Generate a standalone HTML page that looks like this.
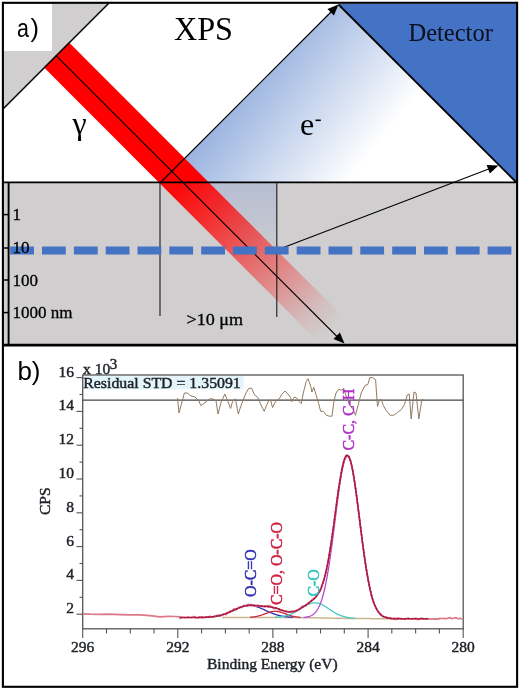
<!DOCTYPE html>
<html><head><meta charset="utf-8"><style>html,body{margin:0;padding:0;background:#fff;}svg{display:block;}</style></head>
<body><svg width="520" height="690" viewBox="0 0 520 690">
<defs>
 <linearGradient id="cone" gradientUnits="userSpaceOnUse" x1="160" y1="183" x2="273.9" y2="274.1">
  <stop offset="0" stop-color="#96b0de"/>
  <stop offset="1" stop-color="#ffffff"/>
 </linearGradient>
 <linearGradient id="beamfade" gradientUnits="userSpaceOnUse" x1="183" y1="183" x2="330" y2="330">
  <stop offset="0" stop-color="#ff0000" stop-opacity="0.95"/>
  <stop offset="0.18" stop-color="#ff0000" stop-opacity="0.8"/>
  <stop offset="0.5" stop-color="#ff0000" stop-opacity="0.48"/>
  <stop offset="0.72" stop-color="#ff0000" stop-opacity="0.25"/>
  <stop offset="0.88" stop-color="#ff0000" stop-opacity="0.08"/>
  <stop offset="1" stop-color="#ff0000" stop-opacity="0"/>
 </linearGradient>
 <linearGradient id="tint" gradientUnits="userSpaceOnUse" x1="0" y1="183" x2="0" y2="262">
  <stop offset="0" stop-color="#7896dc" stop-opacity="0.3"/>
  <stop offset="1" stop-color="#7896dc" stop-opacity="0.02"/>
 </linearGradient>
 <clipPath id="above"><rect x="0" y="0" width="520" height="183"/></clipPath>
 <clipPath id="below"><rect x="0" y="183" width="520" height="161"/></clipPath>
</defs>
<polygon points="3,3 108,3 3,108" fill="#d0cece"/>
<rect x="4" y="4" width="48" height="47" fill="#fff"/>
<polygon points="160,183 338.5,4.5 517,183" fill="url(#cone)"/>
<polygon points="338.5,4 517,4 517,183" fill="#4472c4"/>
<rect x="3" y="183" width="514" height="161" fill="#d0cece"/>
<polygon points="183.5,183 276.5,183 276.5,276" fill="url(#tint)"/>
<polygon points="43.8,67.2 68.8,42.2 213.2,186.8 188.2,211.8" fill="#ff0000" clip-path="url(#above)"/>
<polygon points="138.2,161.8 163.2,136.8 373.2,346.8 348.2,371.8" fill="url(#beamfade)" clip-path="url(#below)"/>
<g stroke="#000" fill="none">
<line x1="3.5" y1="108.5" x2="108.5" y2="3.5" stroke-width="1.6"/>
<line x1="338.5" y1="4.5" x2="516" y2="182" stroke-width="1.8"/>
<line x1="3" y1="182.3" x2="517" y2="182.3" stroke-width="1.8"/>
<line x1="8.6" y1="182" x2="8.6" y2="345" stroke-width="1.9"/>
<line x1="3" y1="214.6" x2="9" y2="214.6" stroke-width="1.5"/>
<line x1="3" y1="248.0" x2="9" y2="248.0" stroke-width="1.5"/>
<line x1="3" y1="280.0" x2="9" y2="280.0" stroke-width="1.5"/>
<line x1="3" y1="312.6" x2="9" y2="312.6" stroke-width="1.5"/>
<line x1="160" y1="183" x2="160" y2="316" stroke="#1a1a1a" stroke-width="1.1"/>
<line x1="276.8" y1="183" x2="276.8" y2="317" stroke="#1a1a1a" stroke-width="1.1"/>
<line x1="55.8" y1="55.3" x2="337" y2="336.5" stroke-width="1.1"/>
<line x1="160" y1="183" x2="333" y2="10" stroke-width="1.2"/>
<line x1="277" y1="250" x2="490" y2="168.5" stroke-width="1.1"/>
</g>
<polygon points="344.5,343.5 333.5,338.9 339.9,332.5" fill="#000"/>
<polygon points="338.5,4.5 333.9,15.5 327.5,9.1" fill="#000"/>
<polygon points="498.5,165.4 489.8,173.5 486.6,165.1" fill="#000"/>
<g fill="#4472c4">
<rect x="10.2" y="246.5" width="23.8" height="8"/>
<rect x="42.0" y="246.5" width="23.8" height="8"/>
<rect x="73.9" y="246.5" width="23.8" height="8"/>
<rect x="105.7" y="246.5" width="23.8" height="8"/>
<rect x="137.5" y="246.5" width="23.8" height="8"/>
<rect x="169.3" y="246.5" width="23.8" height="8"/>
<rect x="201.2" y="246.5" width="23.8" height="8"/>
<rect x="233.0" y="246.5" width="23.8" height="8"/>
<rect x="264.8" y="246.5" width="23.8" height="8"/>
<rect x="296.7" y="246.5" width="23.8" height="8"/>
<rect x="328.5" y="246.5" width="23.8" height="8"/>
<rect x="360.3" y="246.5" width="23.8" height="8"/>
<rect x="392.2" y="246.5" width="23.8" height="8"/>
<rect x="424.0" y="246.5" width="23.8" height="8"/>
<rect x="455.8" y="246.5" width="23.8" height="8"/>
<rect x="487.6" y="246.5" width="23.8" height="8"/>
</g>
<line x1="2" y1="345.1" x2="518" y2="345.1" stroke="#000" stroke-width="2.7"/>
<text transform="translate(16.9,37.3) scale(0.86,1)" font-family="Liberation Sans, Arial, sans-serif" font-size="25" fill="#000">a</text>
<text x="30.6" y="37" font-family="Liberation Sans, Arial, sans-serif" font-size="25.5" fill="#000">)</text>
<text x="174" y="39.8" font-family="Liberation Serif, Times New Roman, serif" font-size="33" fill="#000" textLength="59" lengthAdjust="spacingAndGlyphs">XPS</text>
<text x="408.5" y="41" font-family="Liberation Serif, Times New Roman, serif" font-size="24.5" fill="#0a0f1e">Detector</text>
<text x="72.5" y="133.5" font-family="Liberation Serif, Times New Roman, serif" font-size="32" fill="#000">γ</text>
<text x="300" y="134.5" font-family="Liberation Serif, Times New Roman, serif" font-size="32" fill="#000">e</text>
<rect x="315.5" y="119.5" width="5.3" height="1.6" fill="#000"/>
<g font-family="Liberation Serif, Times New Roman, serif" font-size="17" fill="#000" stroke="#000" stroke-width="0.3">
<text x="12.5" y="219.8">1</text>
<text x="12.5" y="252.8">10</text>
<text x="12.5" y="285.5">100</text>
<text x="12.5" y="317.6">1000 nm</text>
<text x="186.5" y="325.2" textLength="56.5" lengthAdjust="spacingAndGlyphs">&gt;10 μm</text>
</g>
<text x="17.4" y="379.6" font-family="Liberation Sans, Arial, sans-serif" font-size="26" fill="#000">b)</text>
<rect x="83.5" y="375.8" width="160" height="13.5" fill="#e3f4fa"/>
<g stroke="#555" fill="none" stroke-width="1.3">
<rect x="82.7" y="375" width="380.5" height="253.8"/>
<line x1="82.7" y1="400.2" x2="463.2" y2="400.2" stroke="#444"/>
</g>
<g stroke="#555" stroke-width="1.1">
<line x1="76.5" y1="377.6" x2="82.7" y2="377.6"/>
<line x1="79.5" y1="394.5" x2="82.7" y2="394.5"/>
<line x1="76.5" y1="411.4" x2="82.7" y2="411.4"/>
<line x1="79.5" y1="428.3" x2="82.7" y2="428.3"/>
<line x1="76.5" y1="445.2" x2="82.7" y2="445.2"/>
<line x1="79.5" y1="462.1" x2="82.7" y2="462.1"/>
<line x1="76.5" y1="479.0" x2="82.7" y2="479.0"/>
<line x1="79.5" y1="495.9" x2="82.7" y2="495.9"/>
<line x1="76.5" y1="512.8" x2="82.7" y2="512.8"/>
<line x1="79.5" y1="529.7" x2="82.7" y2="529.7"/>
<line x1="76.5" y1="546.6" x2="82.7" y2="546.6"/>
<line x1="79.5" y1="563.5" x2="82.7" y2="563.5"/>
<line x1="76.5" y1="580.4" x2="82.7" y2="580.4"/>
<line x1="79.5" y1="597.3" x2="82.7" y2="597.3"/>
<line x1="76.5" y1="614.2" x2="82.7" y2="614.2"/>
<line x1="82.7" y1="628.8" x2="82.7" y2="638"/>
<line x1="106.5" y1="628.8" x2="106.5" y2="633.5"/>
<line x1="130.3" y1="628.8" x2="130.3" y2="633.5"/>
<line x1="154.0" y1="628.8" x2="154.0" y2="633.5"/>
<line x1="177.8" y1="628.8" x2="177.8" y2="638"/>
<line x1="201.6" y1="628.8" x2="201.6" y2="633.5"/>
<line x1="225.4" y1="628.8" x2="225.4" y2="633.5"/>
<line x1="249.2" y1="628.8" x2="249.2" y2="633.5"/>
<line x1="272.9" y1="628.8" x2="272.9" y2="638"/>
<line x1="296.7" y1="628.8" x2="296.7" y2="633.5"/>
<line x1="320.5" y1="628.8" x2="320.5" y2="633.5"/>
<line x1="344.3" y1="628.8" x2="344.3" y2="633.5"/>
<line x1="368.1" y1="628.8" x2="368.1" y2="638"/>
<line x1="391.8" y1="628.8" x2="391.8" y2="633.5"/>
<line x1="415.6" y1="628.8" x2="415.6" y2="633.5"/>
<line x1="439.4" y1="628.8" x2="439.4" y2="633.5"/>
<line x1="463.2" y1="628.8" x2="463.2" y2="638"/>
</g>
<g font-family="Liberation Serif, Times New Roman, serif" font-size="15.5" fill="#1e2228" stroke="#1e2228" stroke-width="0.45">
<text x="74" y="376.6" text-anchor="end">16</text>
<text x="74" y="410.4" text-anchor="end">14</text>
<text x="74" y="444.2" text-anchor="end">12</text>
<text x="74" y="478.0" text-anchor="end">10</text>
<text x="74" y="511.8" text-anchor="end">8</text>
<text x="74" y="545.6" text-anchor="end">6</text>
<text x="74" y="579.4" text-anchor="end">4</text>
<text x="74" y="613.2" text-anchor="end">2</text>
<text x="82.7" y="652" text-anchor="middle">296</text>
<text x="177.8" y="652" text-anchor="middle">292</text>
<text x="272.9" y="652" text-anchor="middle">288</text>
<text x="368.1" y="652" text-anchor="middle">284</text>
<text x="463.2" y="652" text-anchor="middle">280</text>
<text x="207" y="668.8">Binding Energy (eV)</text>
<text x="50" y="515" transform="rotate(-90 50 515)">CPS</text>
<text x="83" y="374.2">x 10</text>
<text x="109.8" y="369.3" font-size="15">3</text>
<text x="83.3" y="388.2" textLength="157.5" lengthAdjust="spacingAndGlyphs">Residual STD = 1.35091</text>
</g>
<path d="M222.0,617.50 L222.5,617.50 L223.0,617.50 L223.5,617.50 L224.0,617.50 L224.5,617.50 L225.0,617.50 L225.5,617.50 L226.0,617.50 L226.5,617.50 L227.0,617.50 L227.5,617.50 L228.0,617.50 L228.5,617.50 L229.0,617.50 L229.5,617.50 L230.0,617.50 L230.5,617.50 L231.0,617.50 L231.5,617.50 L232.0,617.50 L232.5,617.50 L233.0,617.50 L233.5,617.50 L234.0,617.50 L234.5,617.50 L235.0,617.50 L235.5,617.50 L236.0,617.50 L236.5,617.50 L237.0,617.50 L237.5,617.50 L238.0,617.50 L238.5,617.50 L239.0,617.50 L239.5,617.50 L240.0,617.50 L240.5,617.50 L241.0,617.50 L241.5,617.50 L242.0,617.50 L242.5,617.50 L243.0,617.50 L243.5,617.50 L244.0,617.50 L244.5,617.50 L245.0,617.50 L245.5,617.50 L246.0,617.50 L246.5,617.50 L247.0,617.50 L247.5,617.50 L248.0,617.51 L248.5,617.51 L249.0,617.51 L249.5,617.51 L250.0,617.51 L250.5,617.51 L251.0,617.51 L251.5,617.51 L252.0,617.51 L252.5,617.51 L253.0,617.51 L253.5,617.51 L254.0,617.51 L254.5,617.51 L255.0,617.51 L255.5,617.51 L256.0,617.51 L256.5,617.51 L257.0,617.51 L257.5,617.51 L258.0,617.51 L258.5,617.51 L259.0,617.51 L259.5,617.51 L260.0,617.51 L260.5,617.51 L261.0,617.51 L261.5,617.51 L262.0,617.51 L262.5,617.51 L263.0,617.51 L263.5,617.51 L264.0,617.51 L264.5,617.52 L265.0,617.52 L265.5,617.52 L266.0,617.52 L266.5,617.52 L267.0,617.52 L267.5,617.52 L268.0,617.52 L268.5,617.52 L269.0,617.52 L269.5,617.52 L270.0,617.52 L270.5,617.52 L271.0,617.52 L271.5,617.52 L272.0,617.52 L272.5,617.53 L273.0,617.53 L273.5,617.53 L274.0,617.53 L274.5,617.53 L275.0,617.53 L275.5,617.53 L276.0,617.53 L276.5,617.53 L277.0,617.53 L277.5,617.54 L278.0,617.54 L278.5,617.54 L279.0,617.54 L279.5,617.54 L280.0,617.54 L280.5,617.54 L281.0,617.54 L281.5,617.55 L282.0,617.55 L282.5,617.55 L283.0,617.55 L283.5,617.55 L284.0,617.55 L284.5,617.56 L285.0,617.56 L285.5,617.56 L286.0,617.56 L286.5,617.56 L287.0,617.56 L287.5,617.57 L288.0,617.57 L288.5,617.57 L289.0,617.57 L289.5,617.58 L290.0,617.58 L290.5,617.58 L291.0,617.58 L291.5,617.59 L292.0,617.59 L292.5,617.59 L293.0,617.59 L293.5,617.60 L294.0,617.60 L294.5,617.60 L295.0,617.61 L295.5,617.61 L296.0,617.61 L296.5,617.62 L297.0,617.62 L297.5,617.62 L298.0,617.63 L298.5,617.63 L299.0,617.63 L299.5,617.64 L300.0,617.64 L300.5,617.65 L301.0,617.65 L301.5,617.66 L302.0,617.66 L302.5,617.67 L303.0,617.67 L303.5,617.68 L304.0,617.68 L304.5,617.69 L305.0,617.69 L305.5,617.70 L306.0,617.70 L306.5,617.71 L307.0,617.71 L307.5,617.72 L308.0,617.72 L308.5,617.73 L309.0,617.74 L309.5,617.74 L310.0,617.75 L310.5,617.76 L311.0,617.76 L311.5,617.77 L312.0,617.78 L312.5,617.78 L313.0,617.79 L313.5,617.80 L314.0,617.81 L314.5,617.81 L315.0,617.82 L315.5,617.83 L316.0,617.84 L316.5,617.85 L317.0,617.86 L317.5,617.86 L318.0,617.87 L318.5,617.88 L319.0,617.89 L319.5,617.90 L320.0,617.91 L320.5,617.92 L321.0,617.93 L321.5,617.93 L322.0,617.94 L322.5,617.95 L323.0,617.96 L323.5,617.97 L324.0,617.98 L324.5,617.99 L325.0,618.00 L325.5,618.01 L326.0,618.02 L326.5,618.03 L327.0,618.04 L327.5,618.05 L328.0,618.06 L328.5,618.07 L329.0,618.08 L329.5,618.09 L330.0,618.10 L330.5,618.11 L331.0,618.12 L331.5,618.13 L332.0,618.14 L332.5,618.15 L333.0,618.16 L333.5,618.17 L334.0,618.18 L334.5,618.19 L335.0,618.20 L335.5,618.21 L336.0,618.22 L336.5,618.23 L337.0,618.24 L337.5,618.25 L338.0,618.26 L338.5,618.27 L339.0,618.27 L339.5,618.28 L340.0,618.29 L340.5,618.30 L341.0,618.31 L341.5,618.32 L342.0,618.33 L342.5,618.34 L343.0,618.34 L343.5,618.35 L344.0,618.36 L344.5,618.37 L345.0,618.38 L345.5,618.39 L346.0,618.39 L346.5,618.40 L347.0,618.41 L347.5,618.42 L348.0,618.42 L348.5,618.43 L349.0,618.44 L349.5,618.44 L350.0,618.45 L350.5,618.46 L351.0,618.46 L351.5,618.47 L352.0,618.48 L352.5,618.48 L353.0,618.49 L353.5,618.49 L354.0,618.50 L354.5,618.50 L355.0,618.51 L355.5,618.51 L356.0,618.52 L356.5,618.52 L357.0,618.53 L357.5,618.53 L358.0,618.54 L358.5,618.54 L359.0,618.55 L359.5,618.55 L360.0,618.56 L360.5,618.56 L361.0,618.57 L361.5,618.57 L362.0,618.57 L362.5,618.58 L363.0,618.58 L363.5,618.58 L364.0,618.59 L364.5,618.59 L365.0,618.59 L365.5,618.60 L366.0,618.60 L366.5,618.60 L367.0,618.61 L367.5,618.61 L368.0,618.61 L368.5,618.61 L369.0,618.62 L369.5,618.62 L370.0,618.62 L370.5,618.62 L371.0,618.63 L371.5,618.63 L372.0,618.63 L372.5,618.63 L373.0,618.64 L373.5,618.64 L374.0,618.64 L374.5,618.64 L375.0,618.64 L375.5,618.64 L376.0,618.65 L376.5,618.65 L377.0,618.65 L377.5,618.65 L378.0,618.65 L378.5,618.65 L379.0,618.66 L379.5,618.66 L380.0,618.66 L380.5,618.66 L381.0,618.66 L381.5,618.66 L382.0,618.66 L382.5,618.66 L383.0,618.67 L383.5,618.67 L384.0,618.67 L384.5,618.67 L385.0,618.67 L385.5,618.67 L386.0,618.67 L386.5,618.67 L387.0,618.67 L387.5,618.67 L388.0,618.68 L388.5,618.68 L389.0,618.68 L389.5,618.68 L390.0,618.68 L390.5,618.68 L391.0,618.68 L391.5,618.68 L392.0,618.68 L392.5,618.68 L393.0,618.68 L393.5,618.68 L394.0,618.68 L394.5,618.68 L395.0,618.68 L395.5,618.68 L396.0,618.69 L396.5,618.69 L397.0,618.69 L397.5,618.69 L398.0,618.69 L398.5,618.69 L399.0,618.69 L399.5,618.69 L400.0,618.69 L400.5,618.69 L401.0,618.69 L401.5,618.69 L402.0,618.69 L402.5,618.69 L403.0,618.69 L403.5,618.69 L404.0,618.69 L404.5,618.69 L405.0,618.69 L405.5,618.69 L406.0,618.69 L406.5,618.69 L407.0,618.69 L407.5,618.69 L408.0,618.69 L408.5,618.69 L409.0,618.69 L409.5,618.69 L410.0,618.69 L410.5,618.69 L411.0,618.69 L411.5,618.69 L412.0,618.69 L412.5,618.70 L413.0,618.70 L413.5,618.70 L414.0,618.70 L414.5,618.70 L415.0,618.70 L415.5,618.70 L416.0,618.70 L416.5,618.70 L417.0,618.70 L417.5,618.70 L418.0,618.70 L418.5,618.70 L419.0,618.70 L419.5,618.70 L420.0,618.70 L420.5,618.70 L421.0,618.70 L421.5,618.70 L422.0,618.70 L422.5,618.70 L423.0,618.70 L423.5,618.70 L424.0,618.70 L424.5,618.70 L425.0,618.70 L425.5,618.70 L426.0,618.70 L426.5,618.70 L427.0,618.70 L427.5,618.70 L428.0,618.70 L428.5,618.70 L429.0,618.70 L429.5,618.70 L430.0,618.70 L430.5,618.70 L431.0,618.70 L431.5,618.70 L432.0,618.70 L432.5,618.70 L433.0,618.70 L433.5,618.70 L434.0,618.70 L434.5,618.70 L435.0,618.70 L435.5,618.70 L436.0,618.70 L436.5,618.70 L437.0,618.70 L437.5,618.70 L438.0,618.70 L438.5,618.70 L439.0,618.70 L439.5,618.70 L440.0,618.70" stroke="#c9b58f" stroke-width="1.5" fill="none"/>
<path d="M206.0,617.23 L206.5,617.21 L207.0,617.18 L207.5,617.16 L208.0,617.13 L208.5,617.09 L209.0,617.06 L209.5,617.02 L210.0,616.98 L210.5,616.94 L211.0,616.89 L211.5,616.85 L212.0,616.79 L212.5,616.74 L213.0,616.68 L213.5,616.62 L214.0,616.55 L214.5,616.48 L215.0,616.41 L215.5,616.33 L216.0,616.25 L216.5,616.16 L217.0,616.07 L217.5,615.98 L218.0,615.87 L218.5,615.77 L219.0,615.66 L219.5,615.54 L220.0,615.42 L220.5,615.30 L221.0,615.16 L221.5,615.03 L222.0,614.89 L222.5,614.74 L223.0,614.58 L223.5,614.43 L224.0,614.26 L224.5,614.09 L225.0,613.92 L225.5,613.74 L226.0,613.56 L226.5,613.37 L227.0,613.17 L227.5,612.97 L228.0,612.77 L228.5,612.57 L229.0,612.35 L229.5,612.14 L230.0,611.92 L230.5,611.70 L231.0,611.48 L231.5,611.25 L232.0,611.03 L232.5,610.80 L233.0,610.57 L233.5,610.34 L234.0,610.11 L234.5,609.88 L235.0,609.65 L235.5,609.42 L236.0,609.19 L236.5,608.96 L237.0,608.74 L237.5,608.52 L238.0,608.31 L238.5,608.10 L239.0,607.89 L239.5,607.69 L240.0,607.50 L240.5,607.31 L241.0,607.13 L241.5,606.95 L242.0,606.79 L242.5,606.63 L243.0,606.48 L243.5,606.34 L244.0,606.21 L244.5,606.09 L245.0,605.98 L245.5,605.88 L246.0,605.80 L246.5,605.72 L247.0,605.65 L247.5,605.60 L248.0,605.56 L248.5,605.53 L249.0,605.51 L249.5,605.51 L250.0,605.51 L250.5,605.53 L251.0,605.56 L251.5,605.60 L252.0,605.66 L252.5,605.72 L253.0,605.80 L253.5,605.89 L254.0,605.99 L254.5,606.10 L255.0,606.22 L255.5,606.35 L256.0,606.49 L256.5,606.64 L257.0,606.79 L257.5,606.96 L258.0,607.14 L258.5,607.32 L259.0,607.51 L259.5,607.70 L260.0,607.90 L260.5,608.11 L261.0,608.32 L261.5,608.53 L262.0,608.75 L262.5,608.98 L263.0,609.20 L263.5,609.43 L264.0,609.66 L264.5,609.89 L265.0,610.12 L265.5,610.35 L266.0,610.58 L266.5,610.81 L267.0,611.04 L267.5,611.27 L268.0,611.50 L268.5,611.72 L269.0,611.94 L269.5,612.16 L270.0,612.37 L270.5,612.59 L271.0,612.79 L271.5,613.00 L272.0,613.20 L272.5,613.39 L273.0,613.58 L273.5,613.77 L274.0,613.95 L274.5,614.12 L275.0,614.29 L275.5,614.46 L276.0,614.62 L276.5,614.77 L277.0,614.92 L277.5,615.06 L278.0,615.20 L278.5,615.33 L279.0,615.46 L279.5,615.58 L280.0,615.70 L280.5,615.81 L281.0,615.92 L281.5,616.02 L282.0,616.12 L282.5,616.21 L283.0,616.30 L283.5,616.38 L284.0,616.46 L284.5,616.54 L285.0,616.61 L285.5,616.68 L286.0,616.74 L286.5,616.80 L287.0,616.86 L287.5,616.91 L288.0,616.96 L288.5,617.01 L289.0,617.06 L289.5,617.10 L290.0,617.14 L290.5,617.17 L291.0,617.21 L291.5,617.24 L292.0,617.27 L292.5,617.30 L293.0,617.33" stroke="#3232b4" stroke-width="1.3" fill="none"/>
<path d="M250.0,617.24 L250.5,617.21 L251.0,617.17 L251.5,617.13 L252.0,617.08 L252.5,617.03 L253.0,616.97 L253.5,616.91 L254.0,616.85 L254.5,616.78 L255.0,616.70 L255.5,616.61 L256.0,616.52 L256.5,616.43 L257.0,616.32 L257.5,616.21 L258.0,616.09 L258.5,615.97 L259.0,615.84 L259.5,615.70 L260.0,615.56 L260.5,615.41 L261.0,615.25 L261.5,615.09 L262.0,614.92 L262.5,614.75 L263.0,614.58 L263.5,614.40 L264.0,614.21 L264.5,614.03 L265.0,613.84 L265.5,613.66 L266.0,613.47 L266.5,613.29 L267.0,613.10 L267.5,612.93 L268.0,612.75 L268.5,612.58 L269.0,612.42 L269.5,612.27 L270.0,612.12 L270.5,611.99 L271.0,611.86 L271.5,611.75 L272.0,611.65 L272.5,611.56 L273.0,611.49 L273.5,611.43 L274.0,611.38 L274.5,611.35 L275.0,611.33 L275.5,611.33 L276.0,611.35 L276.5,611.38 L277.0,611.42 L277.5,611.48 L278.0,611.56 L278.5,611.64 L279.0,611.74 L279.5,611.86 L280.0,611.98 L280.5,612.12 L281.0,612.26 L281.5,612.42 L282.0,612.58 L282.5,612.75 L283.0,612.92 L283.5,613.10 L284.0,613.29 L284.5,613.47 L285.0,613.66 L285.5,613.85 L286.0,614.04 L286.5,614.22 L287.0,614.41 L287.5,614.59 L288.0,614.77 L288.5,614.95 L289.0,615.12 L289.5,615.28 L290.0,615.44 L290.5,615.60 L291.0,615.75 L291.5,615.89 L292.0,616.02 L292.5,616.15 L293.0,616.27 L293.5,616.39 L294.0,616.50 L294.5,616.60 L295.0,616.69 L295.5,616.78 L296.0,616.86 L296.5,616.94 L297.0,617.01 L297.5,617.08 L298.0,617.14 L298.5,617.20 L299.0,617.25 L299.5,617.29 L300.0,617.34 L300.5,617.38" stroke="#c82840" stroke-width="1.3" fill="none"/>
<path d="M275.0,617.27 L275.5,617.25 L276.0,617.22 L276.5,617.19 L277.0,617.15 L277.5,617.12 L278.0,617.08 L278.5,617.03 L279.0,616.99 L279.5,616.93 L280.0,616.88 L280.5,616.82 L281.0,616.75 L281.5,616.68 L282.0,616.61 L282.5,616.53 L283.0,616.44 L283.5,616.35 L284.0,616.25 L284.5,616.15 L285.0,616.04 L285.5,615.92 L286.0,615.80 L286.5,615.67 L287.0,615.53 L287.5,615.38 L288.0,615.22 L288.5,615.06 L289.0,614.89 L289.5,614.71 L290.0,614.52 L290.5,614.33 L291.0,614.12 L291.5,613.91 L292.0,613.69 L292.5,613.46 L293.0,613.22 L293.5,612.97 L294.0,612.72 L294.5,612.46 L295.0,612.19 L295.5,611.91 L296.0,611.63 L296.5,611.34 L297.0,611.05 L297.5,610.75 L298.0,610.44 L298.5,610.13 L299.0,609.82 L299.5,609.50 L300.0,609.18 L300.5,608.86 L301.0,608.54 L301.5,608.22 L302.0,607.91 L302.5,607.59 L303.0,607.27 L303.5,606.96 L304.0,606.66 L304.5,606.36 L305.0,606.06 L305.5,605.78 L306.0,605.50 L306.5,605.23 L307.0,604.97 L307.5,604.72 L308.0,604.48 L308.5,604.26 L309.0,604.05 L309.5,603.86 L310.0,603.68 L310.5,603.51 L311.0,603.36 L311.5,603.23 L312.0,603.12 L312.5,603.02 L313.0,602.94 L313.5,602.89 L314.0,602.85 L314.5,602.82 L315.0,602.82 L315.5,602.84 L316.0,602.88 L316.5,602.93 L317.0,603.01 L317.5,603.10 L318.0,603.21 L318.5,603.34 L319.0,603.49 L319.5,603.65 L320.0,603.83 L320.5,604.03 L321.0,604.24 L321.5,604.46 L322.0,604.70 L322.5,604.95 L323.0,605.22 L323.5,605.49 L324.0,605.78 L324.5,606.07 L325.0,606.37 L325.5,606.68 L326.0,607.00 L326.5,607.32 L327.0,607.64 L327.5,607.97 L328.0,608.31 L328.5,608.64 L329.0,608.97 L329.5,609.31 L330.0,609.64 L330.5,609.97 L331.0,610.30 L331.5,610.63 L332.0,610.95 L332.5,611.27 L333.0,611.59 L333.5,611.89 L334.0,612.20 L334.5,612.49 L335.0,612.78 L335.5,613.06 L336.0,613.34 L336.5,613.60 L337.0,613.86 L337.5,614.11 L338.0,614.36 L338.5,614.59 L339.0,614.81 L339.5,615.03 L340.0,615.24 L340.5,615.44 L341.0,615.63 L341.5,615.81 L342.0,615.98 L342.5,616.15 L343.0,616.31 L343.5,616.46 L344.0,616.60 L344.5,616.73 L345.0,616.86 L345.5,616.98 L346.0,617.09 L346.5,617.20 L347.0,617.30 L347.5,617.40 L348.0,617.48 L348.5,617.57 L349.0,617.65 L349.5,617.72 L350.0,617.79 L350.5,617.85 L351.0,617.91 L351.5,617.96 L352.0,618.02 L352.5,618.06 L353.0,618.11 L353.5,618.15 L354.0,618.19 L354.5,618.22 L355.0,618.25" stroke="#46c8c8" stroke-width="1.3" fill="none"/>
<path d="M303.5,617.41 L304.0,617.37 L304.5,617.33 L305.0,617.28 L305.5,617.22 L306.0,617.15 L306.5,617.08 L307.0,616.99 L307.5,616.90 L308.0,616.79 L308.5,616.66 L309.0,616.52 L309.5,616.37 L310.0,616.19 L310.5,615.99 L311.0,615.77 L311.5,615.52 L312.0,615.25 L312.5,614.94 L313.0,614.60 L313.5,614.23 L314.0,613.81 L314.5,613.36 L315.0,612.85 L315.5,612.30 L316.0,611.70 L316.5,611.04 L317.0,610.31 L317.5,609.53 L318.0,608.68 L318.5,607.75 L319.0,606.75 L319.5,605.66 L320.0,604.50 L320.5,603.24 L321.0,601.89 L321.5,600.45 L322.0,598.90 L322.5,597.26 L323.0,595.50 L323.5,593.63 L324.0,591.66 L324.5,589.56 L325.0,587.35 L325.5,585.02 L326.0,582.58 L326.5,580.01 L327.0,577.32 L327.5,574.51 L328.0,571.59 L328.5,568.55 L329.0,565.40 L329.5,562.13 L330.0,558.77 L330.5,555.30 L331.0,551.74 L331.5,548.10 L332.0,544.37 L332.5,540.58 L333.0,536.72 L333.5,532.81 L334.0,528.87 L334.5,524.89 L335.0,520.90 L335.5,516.91 L336.0,512.92 L336.5,508.96 L337.0,505.04 L337.5,501.17 L338.0,497.37 L338.5,493.65 L339.0,490.02 L339.5,486.52 L340.0,483.14 L340.5,479.90 L341.0,476.82 L341.5,473.91 L342.0,471.18 L342.5,468.66 L343.0,466.34 L343.5,464.23 L344.0,462.36 L344.5,460.73 L345.0,459.35 L345.5,458.22 L346.0,457.34 L346.5,456.74 L347.0,456.39 L347.5,456.32 L348.0,456.52 L348.5,456.98 L349.0,457.71 L349.5,458.70 L350.0,459.95 L350.5,461.45 L351.0,463.19 L351.5,465.17 L352.0,467.37 L352.5,469.79 L353.0,472.41 L353.5,475.23 L354.0,478.22 L354.5,481.38 L355.0,484.69 L355.5,488.14 L356.0,491.71 L356.5,495.39 L357.0,499.15 L357.5,503.00 L358.0,506.91 L358.5,510.86 L359.0,514.85 L359.5,518.85 L360.0,522.86 L360.5,526.86 L361.0,530.84 L361.5,534.79 L362.0,538.69 L362.5,542.53 L363.0,546.31 L363.5,550.02 L364.0,553.65 L364.5,557.18 L365.0,560.62 L365.5,563.96 L366.0,567.19 L366.5,570.32 L367.0,573.32 L367.5,576.21 L368.0,578.99 L368.5,581.64 L369.0,584.17 L369.5,586.58 L370.0,588.88 L370.5,591.05 L371.0,593.11 L371.5,595.06 L372.0,596.89 L372.5,598.61 L373.0,600.23 L373.5,601.75 L374.0,603.16 L374.5,604.48 L375.0,605.71 L375.5,606.86 L376.0,607.92 L376.5,608.90 L377.0,609.81 L377.5,610.64 L378.0,611.41 L378.5,612.12 L379.0,612.77 L379.5,613.36 L380.0,613.90 L380.5,614.39 L381.0,614.84 L381.5,615.25 L382.0,615.62 L382.5,615.95 L383.0,616.25 L383.5,616.52 L384.0,616.77 L384.5,616.99 L385.0,617.19 L385.5,617.36 L386.0,617.52 L386.5,617.66 L387.0,617.78 L387.5,617.90 L388.0,617.99 L388.5,618.08 L389.0,618.16 L389.5,618.23 L390.0,618.29 L390.5,618.34 L391.0,618.39 L391.5,618.43" stroke="#b446d2" stroke-width="1.3" fill="none"/>
<polyline points="83.0,613.8 90.0,614.2 100.0,614.4 110.0,614.2 120.0,614.6 130.0,614.9 140.0,614.8 150.0,615.6 160.0,616.9 168.0,616.4 175.0,616.5 180.0,616.8 180.0,618.4 182.0,617.2 184.0,617.5 186.0,617.7 188.0,617.1 190.0,617.5 192.0,617.5 194.0,616.5 196.0,618.0 198.0,617.8 200.0,617.1 202.0,617.3 204.0,617.6 206.0,617.1 208.0,617.0 210.0,616.2 212.0,617.1 214.0,616.6 216.0,616.4 218.0,615.0 220.0,616.3 222.0,615.0 224.0,614.0 226.0,614.7 228.0,612.7 230.0,611.1 232.0,610.8 234.0,608.8 236.0,609.8 238.0,608.1 240.0,607.1 242.0,607.4 244.0,605.3 246.0,606.0 248.0,604.3 250.0,604.9 252.0,604.6 254.0,606.1 256.0,606.5 258.0,605.5 260.0,606.4 262.0,606.1 264.0,606.6 266.0,606.1 268.0,605.7 270.0,605.9 272.0,607.4 274.0,608.8 276.0,608.3 278.0,608.5 280.0,610.5 282.0,610.3 284.0,611.0 286.0,611.6 288.0,611.7 290.0,611.8 292.0,611.0 294.0,611.7 296.0,610.7 298.0,610.5 300.0,608.5 302.0,606.5 304.0,606.2 306.0,605.8 308.0,603.3 310.0,601.6 312.0,599.9 314.0,598.3 316.0,596.6 318.0,593.4 320.0,591.2 322.0,585.5 324.0,579.5 326.0,572.3 328.0,562.7 330.0,550.2 332.0,537.4 334.0,523.3 336.0,507.9 338.0,492.5 340.0,480.4 342.0,469.3 344.0,460.8 346.0,455.5 348.0,455.5 350.0,459.0 352.0,466.7 354.0,478.6 356.0,492.3 358.0,507.1 360.0,523.1 362.0,539.0 364.0,553.6 366.0,567.1 368.0,578.6 370.0,588.8 372.0,598.1 374.0,603.6 376.0,607.7 378.0,611.2 380.0,613.4 382.0,615.8 384.0,617.0 386.0,616.7 388.0,618.3 390.0,618.0 392.0,619.2 394.0,618.6 396.0,619.6 398.0,618.4 400.0,618.5 402.0,618.8 404.0,619.3 406.0,619.0 408.0,618.0 410.0,618.8 412.0,618.7 414.0,618.5 416.0,618.3 418.0,619.7 420.0,618.5 422.0,618.2 424.0,619.0 426.0,618.8 428.0,618.7 430.0,619.1 432.0,619.0 434.0,618.9 436.0,619.2 438.0,618.9 440.0,618.4 442.0,618.5 444.0,618.4 446.0,618.8 448.0,618.1 450.0,617.7 452.0,618.7 454.0,618.0 456.0,617.6 458.0,618.9 460.0,618.3 462.0,619.0" stroke="#dc7888" stroke-width="1.7" fill="none" stroke-linejoin="round"/>
<path d="M180.0,617.50 L180.5,617.50 L181.0,617.50 L181.5,617.50 L182.0,617.50 L182.5,617.50 L183.0,617.50 L183.5,617.50 L184.0,617.50 L184.5,617.50 L185.0,617.50 L185.5,617.50 L186.0,617.50 L186.5,617.50 L187.0,617.50 L187.5,617.49 L188.0,617.49 L188.5,617.49 L189.0,617.49 L189.5,617.49 L190.0,617.49 L190.5,617.49 L191.0,617.49 L191.5,617.49 L192.0,617.48 L192.5,617.48 L193.0,617.48 L193.5,617.48 L194.0,617.48 L194.5,617.47 L195.0,617.47 L195.5,617.47 L196.0,617.46 L196.5,617.46 L197.0,617.45 L197.5,617.45 L198.0,617.44 L198.5,617.44 L199.0,617.43 L199.5,617.42 L200.0,617.41 L200.5,617.40 L201.0,617.40 L201.5,617.38 L202.0,617.37 L202.5,617.36 L203.0,617.35 L203.5,617.33 L204.0,617.31 L204.5,617.30 L205.0,617.28 L205.5,617.26 L206.0,617.23 L206.5,617.21 L207.0,617.18 L207.5,617.16 L208.0,617.13 L208.5,617.09 L209.0,617.06 L209.5,617.02 L210.0,616.98 L210.5,616.94 L211.0,616.89 L211.5,616.85 L212.0,616.79 L212.5,616.74 L213.0,616.68 L213.5,616.62 L214.0,616.55 L214.5,616.48 L215.0,616.41 L215.5,616.33 L216.0,616.25 L216.5,616.16 L217.0,616.07 L217.5,615.98 L218.0,615.87 L218.5,615.77 L219.0,615.66 L219.5,615.54 L220.0,615.42 L220.5,615.30 L221.0,615.16 L221.5,615.03 L222.0,614.89 L222.5,614.74 L223.0,614.58 L223.5,614.43 L224.0,614.26 L224.5,614.09 L225.0,613.92 L225.5,613.74 L226.0,613.56 L226.5,613.37 L227.0,613.17 L227.5,612.97 L228.0,612.77 L228.5,612.57 L229.0,612.35 L229.5,612.14 L230.0,611.92 L230.5,611.70 L231.0,611.48 L231.5,611.25 L232.0,611.03 L232.5,610.80 L233.0,610.57 L233.5,610.34 L234.0,610.10 L234.5,609.87 L235.0,609.64 L235.5,609.41 L236.0,609.19 L236.5,608.96 L237.0,608.74 L237.5,608.52 L238.0,608.30 L238.5,608.09 L239.0,607.88 L239.5,607.68 L240.0,607.48 L240.5,607.29 L241.0,607.11 L241.5,606.93 L242.0,606.76 L242.5,606.60 L243.0,606.45 L243.5,606.30 L244.0,606.16 L244.5,606.04 L245.0,605.92 L245.5,605.81 L246.0,605.71 L246.5,605.62 L247.0,605.54 L247.5,605.46 L248.0,605.40 L248.5,605.35 L249.0,605.31 L249.5,605.27 L250.0,605.25 L250.5,605.23 L251.0,605.22 L251.5,605.22 L252.0,605.23 L252.5,605.25 L253.0,605.27 L253.5,605.29 L254.0,605.33 L254.5,605.36 L255.0,605.40 L255.5,605.45 L256.0,605.50 L256.5,605.55 L257.0,605.60 L257.5,605.66 L258.0,605.72 L258.5,605.77 L259.0,605.83 L259.5,605.89 L260.0,605.94 L260.5,606.00 L261.0,606.05 L261.5,606.10 L262.0,606.15 L262.5,606.20 L263.0,606.25 L263.5,606.29 L264.0,606.34 L264.5,606.38 L265.0,606.42 L265.5,606.46 L266.0,606.50 L266.5,606.54 L267.0,606.59 L267.5,606.63 L268.0,606.68 L268.5,606.72 L269.0,606.78 L269.5,606.83 L270.0,606.89 L270.5,606.96 L271.0,607.03 L271.5,607.10 L272.0,607.19 L272.5,607.28 L273.0,607.37 L273.5,607.48 L274.0,607.59 L274.5,607.71 L275.0,607.84 L275.5,607.98 L276.0,608.12 L276.5,608.27 L277.0,608.43 L277.5,608.59 L278.0,608.76 L278.5,608.93 L279.0,609.11 L279.5,609.29 L280.0,609.48 L280.5,609.66 L281.0,609.85 L281.5,610.03 L282.0,610.21 L282.5,610.39 L283.0,610.57 L283.5,610.73 L284.0,610.90 L284.5,611.05 L285.0,611.20 L285.5,611.33 L286.0,611.45 L286.5,611.57 L287.0,611.66 L287.5,611.75 L288.0,611.82 L288.5,611.88 L289.0,611.92 L289.5,611.94 L290.0,611.95 L290.5,611.94 L291.0,611.91 L291.5,611.86 L292.0,611.80 L292.5,611.72 L293.0,611.62 L293.5,611.51 L294.0,611.38 L294.5,611.23 L295.0,611.07 L295.5,610.89 L296.0,610.70 L296.5,610.50 L297.0,610.28 L297.5,610.04 L298.0,609.80 L298.5,609.54 L299.0,609.28 L299.5,609.00 L300.0,608.72 L300.5,608.42 L301.0,608.12 L301.5,607.81 L302.0,607.50 L302.5,607.18 L303.0,606.86 L303.5,606.54 L304.0,606.21 L304.5,605.88 L305.0,605.54 L305.5,605.21 L306.0,604.87 L306.5,604.53 L307.0,604.19 L307.5,603.85 L308.0,603.50 L308.5,603.16 L309.0,602.81 L309.5,602.45 L310.0,602.09 L310.5,601.73 L311.0,601.35 L311.5,600.97 L312.0,600.58 L312.5,600.17 L313.0,599.75 L313.5,599.31 L314.0,598.84 L314.5,598.36 L315.0,597.85 L315.5,597.31 L316.0,596.73 L316.5,596.12 L317.0,595.46 L317.5,594.76 L318.0,594.01 L318.5,593.21 L319.0,592.34 L319.5,591.42 L320.0,590.42 L320.5,589.35 L321.0,588.21 L321.5,586.98 L322.0,585.66 L322.5,584.26 L323.0,582.76 L323.5,581.15 L324.0,579.45 L324.5,577.64 L325.0,575.72 L325.5,573.70 L326.0,571.55 L326.5,569.30 L327.0,566.92 L327.5,564.44 L328.0,561.83 L328.5,559.12 L329.0,556.29 L329.5,553.35 L330.0,550.31 L330.5,547.16 L331.0,543.93 L331.5,540.60 L332.0,537.18 L332.5,533.70 L333.0,530.15 L333.5,526.54 L334.0,522.88 L334.5,519.19 L335.0,515.48 L335.5,511.76 L336.0,508.04 L336.5,504.34 L337.0,500.66 L337.5,497.03 L338.0,493.46 L338.5,489.97 L339.0,486.56 L339.5,483.26 L340.0,480.08 L340.5,477.03 L341.0,474.14 L341.5,471.40 L342.0,468.84 L342.5,466.47 L343.0,464.30 L343.5,462.34 L344.0,460.60 L344.5,459.10 L345.0,457.83 L345.5,456.81 L346.0,456.05 L346.5,455.54 L347.0,455.29 L347.5,455.30 L348.0,455.58 L348.5,456.12 L349.0,456.92 L349.5,457.97 L350.0,459.28 L350.5,460.84 L351.0,462.64 L351.5,464.66 L352.0,466.91 L352.5,469.37 L353.0,472.03 L353.5,474.88 L354.0,477.91 L354.5,481.10 L355.0,484.44 L355.5,487.91 L356.0,491.50 L356.5,495.20 L357.0,498.99 L357.5,502.85 L358.0,506.77 L358.5,510.74 L359.0,514.74 L359.5,518.75 L360.0,522.77 L360.5,526.78 L361.0,530.77 L361.5,534.72 L362.0,538.63 L362.5,542.49 L363.0,546.27 L363.5,549.98 L364.0,553.61 L364.5,557.15 L365.0,560.60 L365.5,563.94 L366.0,567.17 L366.5,570.30 L367.0,573.31 L367.5,576.20 L368.0,578.97 L368.5,581.63 L369.0,584.16 L369.5,586.58 L370.0,588.87 L370.5,591.05 L371.0,593.11 L371.5,595.05 L372.0,596.88 L372.5,598.61 L373.0,600.23 L373.5,601.74 L374.0,603.16 L374.5,604.48 L375.0,605.71 L375.5,606.86 L376.0,607.92 L376.5,608.90 L377.0,609.81 L377.5,610.64 L378.0,611.41 L378.5,612.12 L379.0,612.76 L379.5,613.36 L380.0,613.90 L380.5,614.39 L381.0,614.84 L381.5,615.25 L382.0,615.62 L382.5,615.95 L383.0,616.25 L383.5,616.52 L384.0,616.77 L384.5,616.99 L385.0,617.19 L385.5,617.36 L386.0,617.52 L386.5,617.66 L387.0,617.78 L387.5,617.90 L388.0,617.99 L388.5,618.08 L389.0,618.16 L389.5,618.23 L390.0,618.29 L390.5,618.34 L391.0,618.39 L391.5,618.43 L392.0,618.46 L392.5,618.49 L393.0,618.52 L393.5,618.54 L394.0,618.56 L394.5,618.58 L395.0,618.60 L395.5,618.61 L396.0,618.62 L396.5,618.63 L397.0,618.64 L397.5,618.65 L398.0,618.65 L398.5,618.66 L399.0,618.66 L399.5,618.67 L400.0,618.67 L400.5,618.68 L401.0,618.68 L401.5,618.68 L402.0,618.68 L402.5,618.68 L403.0,618.69 L403.5,618.69 L404.0,618.69 L404.5,618.69 L405.0,618.69 L405.5,618.69 L406.0,618.69 L406.5,618.69 L407.0,618.69 L407.5,618.69 L408.0,618.69 L408.5,618.69 L409.0,618.69 L409.5,618.69 L410.0,618.69 L410.5,618.69 L411.0,618.69 L411.5,618.69 L412.0,618.69 L412.5,618.69 L413.0,618.70 L413.5,618.70 L414.0,618.70 L414.5,618.70 L415.0,618.70 L415.5,618.70 L416.0,618.70 L416.5,618.70 L417.0,618.70 L417.5,618.70 L418.0,618.70 L418.5,618.70 L419.0,618.70 L419.5,618.70 L420.0,618.70 L420.5,618.70 L421.0,618.70 L421.5,618.70 L422.0,618.70 L422.5,618.70 L423.0,618.70 L423.5,618.70 L424.0,618.70 L424.5,618.70 L425.0,618.70 L425.5,618.70 L426.0,618.70 L426.5,618.70 L427.0,618.70 L427.5,618.70 L428.0,618.70" stroke="#cc2048" stroke-width="1.6" fill="none"/>
<path d="M180.0,617.50 L180.5,617.50 L181.0,617.50 L181.5,617.50 L182.0,617.50 L182.5,617.50 L183.0,617.50 L183.5,617.50 L184.0,617.50 L184.5,617.50 L185.0,617.50 L185.5,617.50 L186.0,617.50 L186.5,617.50 L187.0,617.50 L187.5,617.49 L188.0,617.49 L188.5,617.49 L189.0,617.49 L189.5,617.49 L190.0,617.49 L190.5,617.49 L191.0,617.49 L191.5,617.49 L192.0,617.48 L192.5,617.48 L193.0,617.48 L193.5,617.48 L194.0,617.48 L194.5,617.47 L195.0,617.47 L195.5,617.47 L196.0,617.46 L196.5,617.46 L197.0,617.45 L197.5,617.45 L198.0,617.44 L198.5,617.44 L199.0,617.43 L199.5,617.42 L200.0,617.41 L200.5,617.40 L201.0,617.40 L201.5,617.38 L202.0,617.37 L202.5,617.36 L203.0,617.35 L203.5,617.33 L204.0,617.31 L204.5,617.30 L205.0,617.28 L205.5,617.26 L206.0,617.23 L206.5,617.21 L207.0,617.18 L207.5,617.16 L208.0,617.13 L208.5,617.09 L209.0,617.06 L209.5,617.02 L210.0,616.98 L210.5,616.94 L211.0,616.89 L211.5,616.85 L212.0,616.79 L212.5,616.74 L213.0,616.68 L213.5,616.62 L214.0,616.55 L214.5,616.48 L215.0,616.41 L215.5,616.33 L216.0,616.25 L216.5,616.16 L217.0,616.07 L217.5,615.98 L218.0,615.87 L218.5,615.77 L219.0,615.66 L219.5,615.54 L220.0,615.42 L220.5,615.30 L221.0,615.16 L221.5,615.03 L222.0,614.89 L222.5,614.74 L223.0,614.58 L223.5,614.43 L224.0,614.26 L224.5,614.09 L225.0,613.92 L225.5,613.74 L226.0,613.56 L226.5,613.37 L227.0,613.17 L227.5,612.97 L228.0,612.77 L228.5,612.57 L229.0,612.35 L229.5,612.14 L230.0,611.92 L230.5,611.70 L231.0,611.48 L231.5,611.25 L232.0,611.03 L232.5,610.80 L233.0,610.57 L233.5,610.34 L234.0,610.10 L234.5,609.87 L235.0,609.64 L235.5,609.41 L236.0,609.19 L236.5,608.96 L237.0,608.74 L237.5,608.52 L238.0,608.30 L238.5,608.09 L239.0,607.88 L239.5,607.68 L240.0,607.48 L240.5,607.29 L241.0,607.11 L241.5,606.93 L242.0,606.76 L242.5,606.60 L243.0,606.45 L243.5,606.30 L244.0,606.16 L244.5,606.04 L245.0,605.92 L245.5,605.81 L246.0,605.71 L246.5,605.62 L247.0,605.54 L247.5,605.46 L248.0,605.40 L248.5,605.35 L249.0,605.31 L249.5,605.27 L250.0,605.25 L250.5,605.23 L251.0,605.22 L251.5,605.22 L252.0,605.23 L252.5,605.25 L253.0,605.27 L253.5,605.29 L254.0,605.33 L254.5,605.36 L255.0,605.40 L255.5,605.45 L256.0,605.50 L256.5,605.55 L257.0,605.60 L257.5,605.66 L258.0,605.72 L258.5,605.77 L259.0,605.83 L259.5,605.89 L260.0,605.94 L260.5,606.00 L261.0,606.05 L261.5,606.10 L262.0,606.15 L262.5,606.20 L263.0,606.25 L263.5,606.29 L264.0,606.34 L264.5,606.38 L265.0,606.42 L265.5,606.46 L266.0,606.50 L266.5,606.54 L267.0,606.59 L267.5,606.63 L268.0,606.68 L268.5,606.72 L269.0,606.78 L269.5,606.83 L270.0,606.89 L270.5,606.96 L271.0,607.03 L271.5,607.10 L272.0,607.19 L272.5,607.28 L273.0,607.37 L273.5,607.48 L274.0,607.59 L274.5,607.71 L275.0,607.84 L275.5,607.98 L276.0,608.12 L276.5,608.27 L277.0,608.43 L277.5,608.59 L278.0,608.76 L278.5,608.93 L279.0,609.11 L279.5,609.29 L280.0,609.48 L280.5,609.66 L281.0,609.85 L281.5,610.03 L282.0,610.21 L282.5,610.39 L283.0,610.57 L283.5,610.73 L284.0,610.90 L284.5,611.05 L285.0,611.20 L285.5,611.33 L286.0,611.45 L286.5,611.57 L287.0,611.66 L287.5,611.75 L288.0,611.82 L288.5,611.88 L289.0,611.92 L289.5,611.94 L290.0,611.95 L290.5,611.94 L291.0,611.91 L291.5,611.86 L292.0,611.80 L292.5,611.72 L293.0,611.62 L293.5,611.51 L294.0,611.38 L294.5,611.23 L295.0,611.07 L295.5,610.89 L296.0,610.70 L296.5,610.50 L297.0,610.28 L297.5,610.04 L298.0,609.80 L298.5,609.54 L299.0,609.28 L299.5,609.00 L300.0,608.72 L300.5,608.42 L301.0,608.12 L301.5,607.81 L302.0,607.50 L302.5,607.18 L303.0,606.86 L303.5,606.54 L304.0,606.21 L304.5,605.88 L305.0,605.54 L305.5,605.21 L306.0,604.87 L306.5,604.53 L307.0,604.19 L307.5,603.85 L308.0,603.50 L308.5,603.16 L309.0,602.81 L309.5,602.45 L310.0,602.09 L310.5,601.73 L311.0,601.35 L311.5,600.97 L312.0,600.58 L312.5,600.17 L313.0,599.75 L313.5,599.31 L314.0,598.84 L314.5,598.36 L315.0,597.85 L315.5,597.31 L316.0,596.73 L316.5,596.12 L317.0,595.46 L317.5,594.76 L318.0,594.01 L318.5,593.21 L319.0,592.34 L319.5,591.42 L320.0,590.42 L320.5,589.35 L321.0,588.21 L321.5,586.98 L322.0,585.66 L322.5,584.26 L323.0,582.76 L323.5,581.15 L324.0,579.45 L324.5,577.64 L325.0,575.72 L325.5,573.70 L326.0,571.55 L326.5,569.30 L327.0,566.92 L327.5,564.44 L328.0,561.83 L328.5,559.12 L329.0,556.29 L329.5,553.35 L330.0,550.31 L330.5,547.16 L331.0,543.93 L331.5,540.60 L332.0,537.18 L332.5,533.70 L333.0,530.15 L333.5,526.54 L334.0,522.88 L334.5,519.19 L335.0,515.48 L335.5,511.76 L336.0,508.04 L336.5,504.34 L337.0,500.66 L337.5,497.03 L338.0,493.46 L338.5,489.97 L339.0,486.56 L339.5,483.26 L340.0,480.08 L340.5,477.03 L341.0,474.14 L341.5,471.40 L342.0,468.84 L342.5,466.47 L343.0,464.30 L343.5,462.34 L344.0,460.60 L344.5,459.10 L345.0,457.83 L345.5,456.81 L346.0,456.05 L346.5,455.54 L347.0,455.29 L347.5,455.30 L348.0,455.58 L348.5,456.12 L349.0,456.92 L349.5,457.97 L350.0,459.28 L350.5,460.84 L351.0,462.64 L351.5,464.66 L352.0,466.91 L352.5,469.37 L353.0,472.03 L353.5,474.88 L354.0,477.91 L354.5,481.10 L355.0,484.44 L355.5,487.91 L356.0,491.50 L356.5,495.20 L357.0,498.99 L357.5,502.85 L358.0,506.77 L358.5,510.74 L359.0,514.74 L359.5,518.75 L360.0,522.77 L360.5,526.78 L361.0,530.77 L361.5,534.72 L362.0,538.63 L362.5,542.49 L363.0,546.27 L363.5,549.98 L364.0,553.61 L364.5,557.15 L365.0,560.60 L365.5,563.94 L366.0,567.17 L366.5,570.30 L367.0,573.31 L367.5,576.20 L368.0,578.97 L368.5,581.63 L369.0,584.16 L369.5,586.58 L370.0,588.87 L370.5,591.05 L371.0,593.11 L371.5,595.05 L372.0,596.88 L372.5,598.61 L373.0,600.23 L373.5,601.74 L374.0,603.16 L374.5,604.48 L375.0,605.71 L375.5,606.86 L376.0,607.92 L376.5,608.90 L377.0,609.81 L377.5,610.64 L378.0,611.41 L378.5,612.12 L379.0,612.76 L379.5,613.36 L380.0,613.90 L380.5,614.39 L381.0,614.84 L381.5,615.25 L382.0,615.62 L382.5,615.95 L383.0,616.25 L383.5,616.52 L384.0,616.77 L384.5,616.99 L385.0,617.19 L385.5,617.36 L386.0,617.52 L386.5,617.66 L387.0,617.78 L387.5,617.90 L388.0,617.99 L388.5,618.08 L389.0,618.16 L389.5,618.23 L390.0,618.29 L390.5,618.34 L391.0,618.39 L391.5,618.43 L392.0,618.46 L392.5,618.49 L393.0,618.52 L393.5,618.54 L394.0,618.56 L394.5,618.58 L395.0,618.60 L395.5,618.61 L396.0,618.62 L396.5,618.63 L397.0,618.64 L397.5,618.65 L398.0,618.65 L398.5,618.66 L399.0,618.66 L399.5,618.67 L400.0,618.67 L400.5,618.68 L401.0,618.68 L401.5,618.68 L402.0,618.68 L402.5,618.68 L403.0,618.69 L403.5,618.69 L404.0,618.69 L404.5,618.69 L405.0,618.69 L405.5,618.69 L406.0,618.69 L406.5,618.69 L407.0,618.69 L407.5,618.69 L408.0,618.69 L408.5,618.69 L409.0,618.69 L409.5,618.69 L410.0,618.69 L410.5,618.69 L411.0,618.69 L411.5,618.69 L412.0,618.69 L412.5,618.69 L413.0,618.70 L413.5,618.70 L414.0,618.70 L414.5,618.70 L415.0,618.70 L415.5,618.70 L416.0,618.70 L416.5,618.70 L417.0,618.70 L417.5,618.70 L418.0,618.70 L418.5,618.70 L419.0,618.70 L419.5,618.70 L420.0,618.70 L420.5,618.70 L421.0,618.70 L421.5,618.70 L422.0,618.70 L422.5,618.70 L423.0,618.70 L423.5,618.70 L424.0,618.70 L424.5,618.70 L425.0,618.70 L425.5,618.70 L426.0,618.70 L426.5,618.70 L427.0,618.70 L427.5,618.70 L428.0,618.70" stroke="#3a1c40" stroke-width="1.2" fill="none" stroke-dasharray="1.2 2.4" opacity="0.75"/>
<polyline points="177.5,398.0 179.0,413.0 184.4,393.0 187.3,393.0 191.0,396.0 195.0,397.0 198.8,400.8 200.8,405.6 203.6,403.6 206.5,401.7 209.4,398.8 213.0,399.0 216.0,400.8 218.0,414.0 221.0,402.7 224.8,394.0 227.7,400.8 230.6,408.5 232.5,401.7 235.4,398.8 238.3,414.0 241.0,405.6 246.0,393.0 248.8,388.3 251.7,388.3 254.6,395.0 257.5,397.0 260.4,403.6 264.2,411.3 266.0,406.5 268.7,400.8 270.6,399.8 272.5,407.5 275.4,401.7 279.2,398.8 282.1,394.0 285.0,391.0 287.9,394.0 290.8,397.9 291.7,401.7 294.6,396.9 297.5,398.8 299.4,401.7 301.3,403.6 303.3,393.0 306.2,381.5 308.0,378.7 311.0,387.3 311.9,392.0 313.8,387.3 316.7,396.9 318.7,403.6 320.6,411.3 323.5,411.3 326.3,415.2 329.2,416.2 332.0,416.2 334.0,400.8 336.0,393.0 338.8,389.2 341.7,390.2 343.7,388.3 345.8,395.0 349.6,404.6 353.5,410.4 355.4,415.2 358.3,404.6 361.2,393.0 365.0,385.4 367.9,384.4 369.8,377.7 372.7,377.7 375.6,379.6 376.5,393.0 377.5,406.5 379.4,399.8 381.3,399.8 383.3,405.6 386.2,410.4 390.0,415.2 393.8,415.2 397.7,412.3 401.5,409.4 404.4,404.6 407.3,395.0 409.2,394.0 411.2,419.0 414.0,392.0 416.0,393.0 418.8,419.0 421.7,400.8 423.0,398.8" stroke="#927a62" stroke-width="1.0" fill="none" stroke-linejoin="round"/>
<text x="255.5" y="597.0" transform="rotate(-90 255.5 597.0)" font-family="Liberation Serif, Times New Roman, serif" font-size="15.9" fill="#3030b0" stroke="#3030b0" stroke-width="0.5">O-C=O</text>
<text x="282.0" y="605.1" transform="rotate(-90 282.0 605.1)" font-family="Liberation Serif, Times New Roman, serif" font-size="15.9" fill="#d02040" stroke="#d02040" stroke-width="0.5">C=O, O-C-O</text>
<text x="319.2" y="596.6" transform="rotate(-90 319.2 596.6)" font-family="Liberation Serif, Times New Roman, serif" font-size="15.9" fill="#30c0c0" stroke="#30c0c0" stroke-width="0.5">C-O</text>
<text x="354.0" y="450.5" transform="rotate(-90 354.0 450.5)" font-family="Liberation Serif, Times New Roman, serif" font-size="15.9" fill="#b030c8" stroke="#b030c8" stroke-width="0.5">C-C, C-H</text>
<rect x="2.9" y="2.8" width="514.2" height="684" fill="none" stroke="#000" stroke-width="2.1"/></svg></body></html>
